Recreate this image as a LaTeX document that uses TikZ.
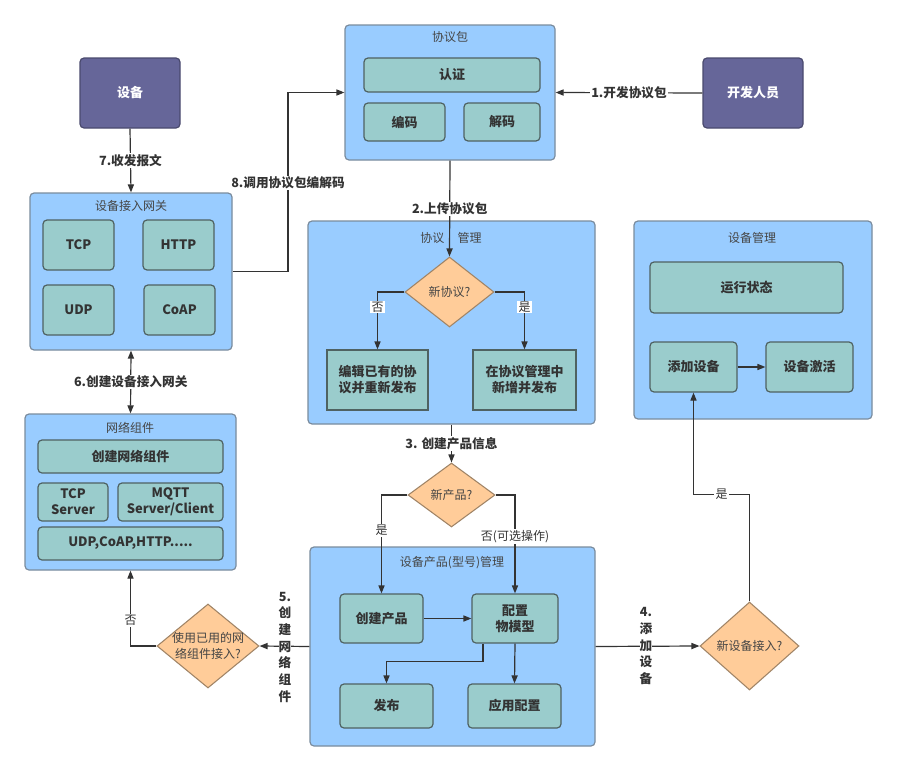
\documentclass[tikz,border=0pt]{standalone}
\usepackage{fontspec}
\setmainfont{Noto Sans CJK SC}
\usetikzlibrary{shapes.geometric,arrows.meta}
\definecolor{contf}{HTML}{99CCFF}
\definecolor{contb}{HTML}{7A8C9E}
\definecolor{inf}{HTML}{9ACCCC}
\definecolor{inb}{HTML}{4F6262}
\definecolor{diaf}{HTML}{FFCC99}
\definecolor{diab}{HTML}{A08466}
\definecolor{purf}{HTML}{666699}
\definecolor{purb}{HTML}{4A4A6E}
\definecolor{txt}{HTML}{333333}
\definecolor{txt2}{HTML}{454545}
\definecolor{edge}{HTML}{333333}
\begin{document}
\begin{tikzpicture}[x=0.75pt,y=-0.75pt,
  font=\fontsize{9pt}{11pt}\selectfont,
  sz/.style 2 args={minimum width=#1*0.75pt, minimum height=#2*0.75pt},
  cont/.style={draw=contb, fill=contf, rounded corners=3pt, line width=0.9pt, inner sep=0pt},
  inbox/.style={draw=inb, fill=inf, rounded corners=3pt, line width=0.9pt,
    font=\fontsize{9.75pt}{12pt}\selectfont\bfseries, text=txt, align=center, inner sep=0pt},
  sqbox/.style={inbox, rounded corners=0pt},
  person/.style={draw=purb, fill=purf, rounded corners=3pt, line width=0.9pt, text=white,
    font=\fontsize{9.75pt}{12pt}\selectfont\bfseries, inner sep=0pt},
  dia/.style={diamond, draw=diab, fill=diaf, line width=0.8pt, inner sep=0pt},
  diatext/.style={text=txt2, align=center, font=\fontsize{9pt}{12.5pt}\selectfont},
  ttl/.style={text=txt2, font=\fontsize{9pt}{11pt}\selectfont, inner sep=1pt},
  lbl/.style={fill=white, inner sep=0.8pt, font=\fontsize{9.5pt}{12pt}\selectfont\bfseries, text=txt},
  nlbl/.style={fill=white, inner sep=0.8pt, font=\fontsize{9pt}{11pt}\selectfont, text=txt},
  vlbl/.style={fill=white, inner sep=0pt, align=center, font=\fontsize{9.5pt}{12.5pt}\selectfont\bfseries, text=txt},
  arr/.style={draw=edge, line width=0.9pt, -{Triangle[length=6pt,width=4.6pt]}},
  darr/.style={draw=edge, line width=0.9pt, {Triangle[length=6pt,width=4.6pt]}-{Triangle[length=6pt,width=4.6pt]}},
]
\fill[white] (0,0) rectangle (897,771);
\useasboundingbox (0,0) rectangle (897,771);

% protocol package
\node[cont, sz={210}{135}] (pkg) at (450,92.5) {};
\node[ttl] (pkgt) at (450,37) {协议包};
\node[inbox, sz={176}{34}] (auth) at (452,75) {认证};
\node[inbox, sz={81}{38}] (enc) at (404.5,122) {编码};
\node[inbox, sz={76}{38}] (dec) at (502,122) {解码};

% persons
\node[person, sz={100}{70}] (device) at (130,93) {设备};
\node[person, sz={100}{70}] (dev) at (753,93) {开发人员};

% gateway
\node[cont, sz={202}{157}] (gw) at (131,271.5) {};
\node[ttl] (gwt) at (131,206) {设备接入网关};
\node[inbox, sz={71}{50}] (tcp) at (78.5,245) {TCP};
\node[inbox, sz={71}{50}] (http) at (178.5,245) {HTTP};
\node[inbox, sz={71}{50}] (udp) at (78.5,310) {UDP};
\node[inbox, sz={71}{50}] (coap) at (179.5,310) {CoAP};

% protocol management
\node[cont, sz={287}{203}] (protom) at (451.5,322.5) {};
\node[ttl] (protomt) at (451,238) {协议\hspace{1.1em}管理};
\node[dia, sz={89}{70}, label={[diatext]center:新协议?}] (newproto) at (449.5,292) {};
\node[sqbox, sz={101}{60}] (editbox) at (377.5,380) {编辑已有的协\\议并重新发布};
\node[sqbox, sz={103}{60}] (addbox) at (524.5,380) {在协议管理中\\新增并发布};

% product management
\node[dia, sz={87}{64}, label={[diatext]center:新产品?}] (newprod) at (451.5,495) {};
\node[cont, sz={285}{199}] (prodm) at (452.5,646.5) {};
\node[ttl] (prodmt) at (452,563) {设备产品(型号)管理};
\node[inbox, sz={83}{49}] (createp) at (381.5,618.5) {创建产品};
\node[inbox, sz={86}{49}] (config) at (515,618.5) {配置\\物模型};
\node[inbox, sz={93}{44}] (publish) at (386.5,706) {发布};
\node[inbox, sz={93}{44}] (apply) at (514.5,706) {应用配置};

% device management
\node[cont, sz={238}{198}] (devm) at (753,320) {};
\node[ttl] (devmt) at (752,238) {设备管理};
\node[inbox, sz={193}{51}] (run) at (746.5,287.5) {运行状态};
\node[inbox, sz={87}{50}] (adddev) at (693.5,367) {添加设备};
\node[inbox, sz={87}{50}] (activ) at (809.5,367) {设备激活};

% decisions
\node[dia, sz={99}{88}, label={[diatext]center:新设备接入?}] (newdev) at (749.5,646) {};
\node[dia, sz={102}{84}, label={[diatext]center:使用已用的网\\络组件接入?}] (usenet) at (208,646) {};

% network components
\node[cont, sz={211}{156}] (netc) at (130.5,492) {};
\node[ttl] (netct) at (130,428) {网络组件};
\node[inbox, sz={185}{33}] (createnet) at (130.5,456.5) {创建网络组件};
\node[inbox, sz={70}{38}] (tcps) at (73,502) {TCP\\Server};
\node[inbox, sz={105}{38}] (mqtt) at (170.5,502) {MQTT\\Server/Client};
\node[inbox, sz={185}{33}] (udpx) at (130.5,543.5) {UDP,CoAP,HTTP.....};

% connectors
\draw[arr] (dev.west) -- node[lbl] (l1) {1.开发协议包} (pkg.east);
\draw[arr] (device.south) -- node[lbl] (l7) {7.收发报文} (gw.north);
\coordinate (c8) at (288,183);
\draw[arr] (gw.east) -| (c8) |- (pkg.west);
\node[lbl] (l8) at (c8) {8.调用协议包编解码};
\draw[arr] (pkg.south) -- node[lbl, pos=0.505] (l2) {2.上传协议包} (newproto.north);
\draw[arr] (newproto.west) -| node[nlbl, pos=0.63] (lno1) {否} (editbox.north);
\draw[arr] (newproto.east) -| node[nlbl, pos=0.63] (lyes1) {是} (addbox.north);
\draw[arr] (protom.south) -- node[lbl] (l3) {3. 创建产品信息} (newprod.north);
\draw[arr] (newprod.west) -| node[nlbl, pos=0.68] (lyes2) {是} (createp.north);
\draw[arr] (newprod.east) -| node[nlbl, pos=0.71] (lno2) {否(可选操作)} (config.north);
\draw[arr] (createp.east) -- (config.west);
\draw[arr] ([xshift=-24pt]config.south) -- ++(0,18) -| (publish.north);
\draw[arr] (config.south) -- (apply.north);
\draw[arr] (prodm.east) -- (newdev.west);
\node[vlbl] (l4) at (646,646) {4.\\添\\加\\设\\备};
\draw[arr] (newdev.north) -- ++(0,-107) -| node[nlbl, pos=0.25] (lyes3) {是} (adddev.south);
\draw[arr] (adddev.east) -- (activ.west);
\draw[arr] (prodm.west) -- (usenet.east);
\node[vlbl] (l5) at (285,647) {5.\\创\\建\\网\\络\\组\\件};
\draw[arr] (usenet.west) -| node[nlbl, pos=0.67] (lno3) {否} (netc.south);
\draw[darr] (gw.south) -- node[lbl] (l6) {6.创建设备接入网关} (netc.north);
\end{tikzpicture}
\end{document}
